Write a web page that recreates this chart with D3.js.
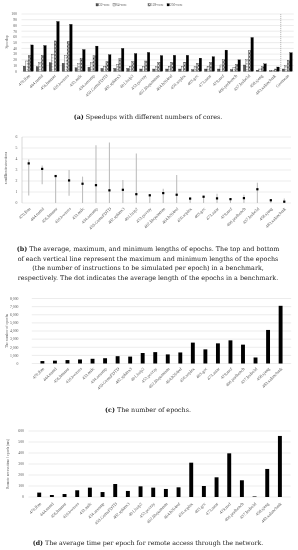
<!DOCTYPE html>
<html>
<head>
<meta charset="utf-8">
<script src="https://cdn.jsdelivr.net/npm/d3@7"></script>
<style>
  html, body { margin: 0; padding: 0; background: #fff; }
  svg { display: block; will-change: transform; }
  text { font-family: "Liberation Serif", "DejaVu Serif", serif; }
</style>
</head>
<body>
<svg id="chart" width="298" height="550"></svg>
<script>
// ---------------- DATA ----------------
const benchmarks = ["470.lbm","444.namd","456.hmmer","410.bwaves","433.milc","434.zeusmp",
  "459.GemsFDTD","482.sphinx3","401.bzip2","453.povray","462.libquantum","464.h264ref",
  "450.soplex","403.gcc","473.astar","429.mcf","400.perlbench","437.leslie3d","458.sjeng",
  "483.xalancbmk"];
const speedupCategories = benchmarks.concat(["Geomean"]);
const coreSeries = ["32-core","64-core","128-core","256-core"];
const speedup32  = [9, 8, 15, 14, 6, 7, 5, 5, 5, 4, 4, 4, 4, 3, 4, 4, 3, 11, 2, 1, 4];
const speedup64  = [18, 16, 30, 28, 13, 15, 9, 12, 9, 9, 8, 9, 9, 8, 9, 11, 7, 20, 4, 2, 10];
const speedup128 = [28, 28, 53, 52, 23, 27, 17, 23, 17, 18, 16, 16, 16, 14, 16, 20, 12, 36, 8, 4, 19];
const speedup256 = [46, 45, 87, 82, 38, 44, 29, 40, 31, 33, 27.5, 28, 28, 23, 25.5, 37, 20, 59, 13, 7.5, 32.5];
const speedupTicks = [0,10,20,30,40,50,60,70,80,90,100];

const epochAvg = [3.6, 3.1, 2.45, 2.05, 1.75, 1.62, 1.15, 1.2, 0.8, 0.7, 0.9, 0.75, 0.4, 0.57, 0.42, 0.35, 0.44, 1.25, 0.25, 0.12];
const epochMax = [3.95, 3.4, 2.5, 3.0, 2.4, 5.25, 5.5, 2.1, 4.5, 0.8, 1.3, 2.55, 0.5, 0.65, 0.85, 0.45, 0.75, 1.85, 0.35, 0.42];
const epochMin = [0.68, 1.7, 0, 0.65, 0, 0, 0, 0, 0, 0, 0, 0, 0, 0, 0, 0, 0, 0, 0, 0];
const epochTicks = [0,1,2,3,4,5,6];

const epochCount = [300, 350, 420, 500, 580, 650, 900, 850, 1290, 1400, 1120, 1360, 2570, 1740, 2480, 2850, 2320, 740, 4130, 7100];
const epochCountTicks = [0,1000,2000,3000,4000,5000,6000,7000,8000];

const remoteTime = [40, 18, 27, 61, 85, 45, 118, 55, 97, 85, 73, 88, 312, 100, 179, 397, 152, 5, 255, 555];
const remoteTimeTicks = [0,100,200,300,400,500,600];

// ---------------- DRAWING ----------------
const svg = d3.select("#chart");
const gridColor = "#d9d9d9";
const tickColor = "#595959";
const tickFont = 3.8;
const catFont = 4.4;
const capFamily = "'DejaVu Serif', 'Liberation Serif', serif";

// patterns
const defs = svg.append("defs");
const pDots = defs.append("pattern").attr("id","dots").attr("patternUnits","userSpaceOnUse")
  .attr("width",1.5).attr("height",1.5);
pDots.append("rect").attr("width",1.5).attr("height",1.5).attr("fill","#fff");
pDots.append("rect").attr("width",0.75).attr("height",0.75).attr("fill","#8c8c8c");
const pChk = defs.append("pattern").attr("id","checker").attr("patternUnits","userSpaceOnUse")
  .attr("width",1.4).attr("height",1.4);
pChk.append("rect").attr("width",1.4).attr("height",1.4).attr("fill","#fff");
pChk.append("rect").attr("width",0.7).attr("height",0.7).attr("fill","#333");
pChk.append("rect").attr("x",0.7).attr("y",0.7).attr("width",0.7).attr("height",0.7).attr("fill","#333");

const seriesFill = ["#5a5a5a", "url(#dots)", "url(#checker)", "#000"];

function yAxisGrid(g, y, ticks, x0, x1, labelX, fmt) {
  g.append("g").selectAll("line").data(ticks).join("line")
    .attr("x1", x0).attr("x2", x1)
    .attr("y1", d => y(d)).attr("y2", d => y(d))
    .attr("stroke", gridColor).attr("stroke-width", 0.5);
  g.append("g").selectAll("text").data(ticks).join("text")
    .attr("x", labelX).attr("y", d => y(d)).attr("dy", "0.35em")
    .attr("text-anchor", "end").attr("font-size", tickFont).attr("fill", tickColor)
    .text(fmt);
}

function catLabels(g, cats, xc, yTop) {
  g.append("g").selectAll("text").data(cats).join("text")
    .attr("transform", d => `translate(${xc(d) + 1},${yTop}) rotate(-45)`)
    .attr("text-anchor", "end").attr("font-size", catFont).attr("fill", tickColor)
    .attr("dy", "0.35em")
    .text(d => d);
}

function yTitle(g, text, x, yc) {
  g.append("text").attr("transform", `translate(${x},${yc}) rotate(-90)`)
    .attr("text-anchor", "middle").attr("font-size", 3.8).attr("fill", tickColor).text(text);
}

// caption: font size fitted so that a reference line reaches the measured width
function caption(lines, yStart, lineH, fitIndex, fitWidth) {
  const nodes = lines.map((ln, i) => {
    const t = svg.append("text").attr("x", 148).attr("y", yStart + i * lineH)
      .attr("text-anchor", "middle").attr("font-size", 10).attr("fill", "#1a1a1a")
      .style("font-family", capFamily);
    if (ln.bold) t.append("tspan").attr("font-weight", "bold").text(ln.bold);
    t.append("tspan").text(ln.text);
    return t;
  });
  const w = nodes[fitIndex].node().getComputedTextLength();
  const fs = Math.max(5, Math.min(8, 10 * fitWidth / w));
  nodes.forEach(t => t.attr("font-size", fs));
}

// ---------- Panel (a) ----------
{
  const g = svg.append("g");
  const x = d3.scaleBand().domain(speedupCategories).range([21.8, 293.7]).paddingInner(0.22).paddingOuter(0.11);
  const y = d3.scaleLinear().domain([0, 100]).range([71.3, 14]);
  yAxisGrid(g, y, speedupTicks, 21.5, 293.7, 17, d => d);
  const xs = d3.scaleBand().domain(coreSeries).range([0, x.bandwidth()]);
  const allSeries = [speedup32, speedup64, speedup128, speedup256];
  allSeries.forEach((vals, si) => {
    g.append("g").selectAll("rect").data(speedupCategories).join("rect")
      .attr("x", d => x(d) + xs(coreSeries[si]))
      .attr("width", xs.bandwidth())
      .attr("y", (d, i) => y(vals[i]))
      .attr("height", (d, i) => y(0) - y(vals[i]))
      .attr("fill", seriesFill[si])
      .attr("stroke", "#000").attr("stroke-width", 0.25);
  });
  // separator before Geomean
  const sepX = x("Geomean") - x.step() * x.paddingInner() / 2;
  g.append("line").attr("x1", sepX).attr("x2", sepX).attr("y1", y(100)).attr("y2", y(0))
    .attr("stroke", "#a6a6a6").attr("stroke-width", 0.8).attr("stroke-dasharray", "1.2,0.8");
  catLabels(g, speedupCategories, d => x(d) + x.bandwidth() / 2, 75);
  yTitle(g, "Speedup", 8, 42);
  // legend
  const lx = [96, 113, 148, 167];
  const lg = g.append("g");
  coreSeries.forEach((s, i) => {
    lg.append("rect").attr("x", lx[i]).attr("y", 3.6).attr("width", 2.4).attr("height", 2.4)
      .attr("fill", seriesFill[i]).attr("stroke", "#000").attr("stroke-width", 0.25);
    lg.append("text").attr("x", lx[i] + 3.0).attr("y", 4.8).attr("dy", "0.35em")
      .attr("font-size", 3.5).attr("fill", tickColor).text(s);
  });
}
caption([{bold: "(a)", text: " Speedups with different numbers of cores."}], 119, 9.6, 0, 149);

// ---------- Panel (b) ----------
{
  const g = svg.append("g");
  const x = d3.scaleBand().domain(benchmarks).range([22, 291]);
  const y = d3.scaleLinear().domain([0, 6]).range([203, 137]);
  yAxisGrid(g, y, epochTicks, 22, 291, 17.5, d => d);
  g.append("line").attr("x1", 22).attr("x2", 22).attr("y1", y(6)).attr("y2", y(0))
    .attr("stroke", "#bfbfbf").attr("stroke-width", 0.6);
  const xc = d => x(d) + x.bandwidth() / 2;
  g.append("g").selectAll("line").data(benchmarks).join("line")
    .attr("x1", xc).attr("x2", xc)
    .attr("y1", (d, i) => y(epochMax[i])).attr("y2", (d, i) => y(epochMin[i]))
    .attr("stroke", "#bfbfbf").attr("stroke-width", 1.1);
  g.append("g").selectAll("rect").data(benchmarks).join("rect")
    .attr("x", d => xc(d) - 1.1).attr("width", 2.2)
    .attr("y", (d, i) => y(epochAvg[i]) - 1.1).attr("height", 2.2)
    .attr("fill", "#000");
  catLabels(g, benchmarks, xc, 208);
  yTitle(g, "x million instructions", 6.5, 168);
}
caption([
  {bold: "(b)", text: " The average, maximum, and minimum lengths of epochs. The top and bottom"},
  {text: "of each vertical line represent the maximum and minimum lengths of the epochs"},
  {text: "(the number of instructions to be simulated per epoch) in a benchmark,"},
  {text: "respectively. The dot indicates the average length of the epochs in a benchmark."}
], 251, 9.6, 3, 261);

// ---------- Panel (c) ----------
{
  const g = svg.append("g");
  const x = d3.scaleBand().domain(benchmarks).range([31.8, 291.2]).padding(0.69);
  const y = d3.scaleLinear().domain([0, 8000]).range([363.5, 298.5]);
  yAxisGrid(g, y, epochCountTicks, 31.8, 291.2, 18.5, d3.format(","));
  g.append("g").selectAll("rect").data(benchmarks).join("rect")
    .attr("x", d => x(d)).attr("width", x.bandwidth())
    .attr("y", (d, i) => y(epochCount[i]))
    .attr("height", (d, i) => y(0) - y(epochCount[i]))
    .attr("fill", "#000");
  catLabels(g, benchmarks, d => x(d) + x.bandwidth() / 2, 368);
  yTitle(g, "The number of epochs", 8, 331);
}
caption([{bold: "(c)", text: " The number of epochs."}], 412, 9.6, 0, 86);

// ---------- Panel (d) ----------
{
  const g = svg.append("g");
  const x = d3.scaleBand().domain(benchmarks).range([28.5, 290.6]).padding(0.69);
  const y = d3.scaleLinear().domain([0, 600]).range([497, 431]);
  yAxisGrid(g, y, remoteTimeTicks, 28.5, 290.6, 24, d => d);
  g.append("g").selectAll("rect").data(benchmarks).join("rect")
    .attr("x", d => x(d)).attr("width", x.bandwidth())
    .attr("y", (d, i) => y(remoteTime[i]))
    .attr("height", (d, i) => y(0) - y(remoteTime[i]))
    .attr("fill", "#000");
  catLabels(g, benchmarks, d => x(d) + x.bandwidth() / 2, 503);
  yTitle(g, "Remote access time / epoch (ms)", 8.5, 464);
}
caption([{bold: "(d)", text: " The average time per epoch for remote access through the network."}], 545, 9.6, 0, 231);
</script>
</body>
</html>
